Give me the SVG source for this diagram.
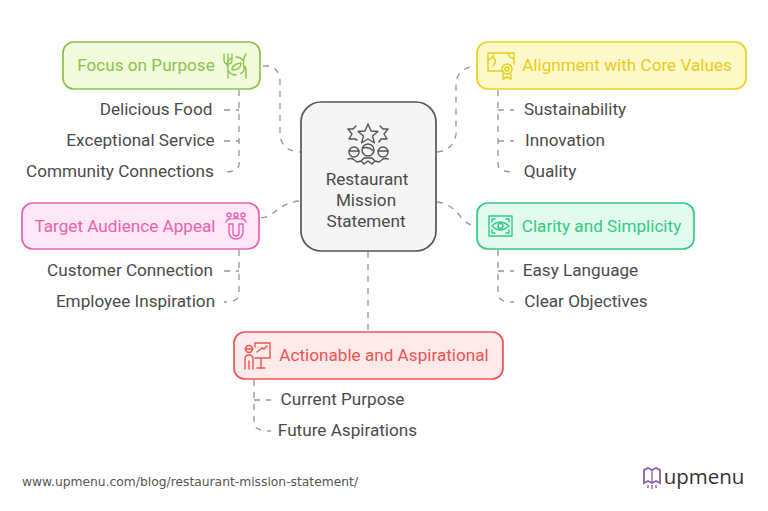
<svg xmlns="http://www.w3.org/2000/svg" width="768" height="511" viewBox="0 0 768 511">
<style>
text{font-family:Roboto,"Liberation Sans",sans-serif;font-size:17.150px;fill:#4b4b4b;text-anchor:middle}
.box{stroke-width:1.700}
.c{fill:none;stroke:#959595;stroke-width:1.300;stroke-dasharray:6 6}
.i{fill:none;stroke-width:1.400;stroke-linecap:round;stroke-linejoin:round}
</style>
<rect width="768" height="511" fill="#ffffff"/>
<g id="connectors">
<path class="c" d="M263 66H268Q280 68 280 82V135Q282 151 300 152"/>
<path class="c" d="M239 90V165Q238 172 224 172"/>
<path class="c" d="M224 110H239M224 141H239"/>
<path class="c" d="M299 201Q286 202 272 214Q268 217 261 218"/>
<path class="c" d="M239 250V295Q238 302 224 302"/>
<path class="c" d="M224 271H239"/>
<path class="c" d="M437 152Q452 151 456 135V82Q458 68 476 66"/>
<path class="c" d="M498 90V165Q499 172 514 172"/>
<path class="c" d="M498 110H514M498 141H514"/>
<path class="c" d="M437 202Q450 203 460 216Q466 225 476 226"/>
<path class="c" d="M498 250V295Q499 302 514 302"/>
<path class="c" d="M498 271H514"/>
<path class="c" d="M368 252V332"/>
<path class="c" d="M254 380V424Q255 431 271 431"/>
<path class="c" d="M254 400H271"/>
</g>
<g id="center">
<rect x="301" y="102" width="135" height="149" rx="20" fill="#f5f5f5" stroke="#555" stroke-width="1.700"/>
<g class="i" stroke="#555" stroke-width="1.300">
<path d="M368 124l3 7 7 .5-5.500 4.500 2 7-6.500-4-6.500 4 2-7-5.500-4.500 7-.5z"/>
<path d="M356 126l-3 3-5 0 4 5-3 5 6 0 2 1M380 126l3 3 5 0-4 5 3 5-6 0-2 3"/>
<circle cx="368" cy="150" r="6"/><path d="M362.500 148q6-2 11 3"/>
<circle cx="354" cy="152" r="5"/><path d="M349 151h10"/>
<circle cx="383" cy="152" r="5"/><path d="M378 151h10"/>
<path d="M348 159q3-1 5 0l4 3 4-1 3-3h8l3 3 4 1 4-3q2-1 5 0M361 161l3 3 4-3 4 3 3-3"/>
</g>
<text x="367" y="185">Restaurant</text>
<text x="366" y="206">Mission</text>
<text x="366" y="227">Statement</text>
</g>
<g id="focus-on-purpose">
<rect class="box" x="63" y="42" width="197" height="47" rx="11" fill="#f2fbdc" stroke="#8bc34a"/>
<text x="146" y="71.400" style="fill:#8bc34a">Focus on Purpose</text>
<g class="i" stroke="#8bc34a">
<path d="M224 54v6q0 4 4 4v14M228 54v8M232 54v6q0 4-4 4M246 54q-4 6-2 14h2v10"/>
<circle cx="236" cy="66" r="9" stroke-dasharray="9 5"/><path d="M232 70q0-6 9-7q0 7-9 7z"/>
</g>
</g>
<g id="alignment">
<rect class="box" x="477" y="42" width="269" height="47" rx="11" fill="#fdf8c8" stroke="#ead21f"/>
<text x="627" y="71.400" style="fill:#e6cc1a">Alignment with Core Values</text>
<g class="i" stroke="#e6cc1a">
<path d="M503 71h-15v-18h26v11M488 60q5-1 6-7M508 53q1 5 6 6"/><path d="M493 66q5-5 0-9"/>
<circle cx="507" cy="69" r="5"/><circle cx="507" cy="69" r="2"/><path d="M503 74v5l4-2 4 2v-5"/>
</g>
</g>
<g id="target-audience">
<rect class="box" x="22" y="203" width="237" height="46" rx="11" fill="#fde8f5" stroke="#ec5fb0"/>
<text x="125" y="232" style="fill:#ec5fb0">Target Audience Appeal</text>
<g class="i" stroke="#ec5fb0">
<circle cx="229" cy="215" r="2"/><circle cx="236" cy="215" r="2"/><circle cx="243" cy="215" r="2"/>
<path d="M226 222q2-4 5-3M233 219q3-2 6 0M241 219q3-1 5 3"/>
<path d="M229 224v8a7 7 0 0 0 14 0v-8h-4v9a3 3 0 0 1-6 0v-9z"/>
</g>
</g>
<g id="clarity">
<rect class="box" x="477" y="203" width="217" height="46" rx="11" fill="#e3fbef" stroke="#34c984"/>
<text x="601.500" y="232" style="fill:#34c984">Clarity and Simplicity</text>
<g class="i" stroke="#34c984">
<rect x="489" y="216" width="23" height="20"/>
<path d="M492 226q8-8 17 0q-9 8-17 0z"/><circle cx="500.500" cy="226" r="2.500"/>
<path d="M492 222v-3h3M506 219h3v3M492 230v3h3M509 230v3h-3"/>
</g>
</g>
<g id="actionable">
<rect class="box" x="234" y="332" width="269" height="47" rx="11" fill="#fdeaea" stroke="#ef5350"/>
<text x="384" y="361.400" style="fill:#ef5350">Actionable and Aspirational</text>
<g class="i" stroke="#ef5350">
<circle cx="249" cy="349" r="3.500"/><path d="M245 349h8M245 369v-10q0-4 4-4t4 4v10M249 361v8"/>
<path d="M255 347v-4h15v15h-15M257 352l5-4 2 1 3-3M256 358h8M261 358v10M257 368h8"/>
</g>
</g>
<g id="leaves">
<text x="156" y="115.400">Delicious Food</text>
<text x="140.500" y="146.400">Exceptional Service</text>
<text x="120" y="177.400">Community Connections</text>
<text x="130" y="276">Customer Connection</text>
<text x="135.500" y="307">Employee Inspiration</text>
<text x="575" y="115.400">Sustainability</text>
<text x="565" y="146.400">Innovation</text>
<text x="550" y="177.400">Quality</text>
<text x="580.500" y="276">Easy Language</text>
<text x="586" y="307">Clear Objectives</text>
<text x="342.500" y="405">Current Purpose</text>
<text x="347.500" y="436">Future Aspirations</text>
</g>
<text x="190" y="486" style="font-family:'DejaVu Sans',sans-serif;font-size:12.300px;fill:#555">www.upmenu.com/blog/restaurant-mission-statement/</text>
<g id="logo">
<path d="M644 470l4-2 4 2 4-2 4 2v13l-4-2-4 2-4-2-4 2z" fill="none" stroke="#8e5ba6" stroke-width="1.800"/>
<path d="M652 470v13M648 485v3M652 485v4M656 485v3" stroke="#8e5ba6" stroke-width="1.300" fill="none"/>
<text x="704" y="484" style="font-family:'Open Sans','DejaVu Sans',sans-serif;font-size:20.500px;fill:#333">upmenu</text>
</g>
</svg>
